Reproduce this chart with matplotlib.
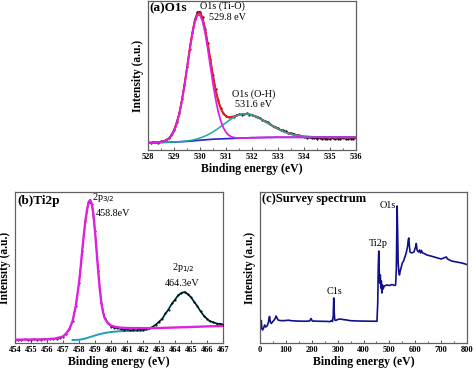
import numpy as np
import matplotlib
matplotlib.use("Agg")
import matplotlib.pyplot as plt
from matplotlib.ticker import MultipleLocator, NullLocator

plt.rcParams['font.family'] = ['Liberation Serif', 'DejaVu Serif']

# ---- (a) O1s : 0.1 eV steps from 528 to 536 ----
o1s_energy = np.linspace(528.0, 536.0, 81)
o1s_bg = [7.3, 7.3, 7.4, 7.4, 7.5, 7.5, 7.6, 7.7, 7.8, 7.9,
          8.0, 8.1, 8.2, 8.3, 8.5, 8.6, 8.8, 9.0, 9.3, 9.5,
          9.8, 10.0, 10.2, 10.4, 10.6, 10.8, 10.9, 11.0, 11.1, 11.2,
          11.3, 11.4, 11.5, 11.6, 11.7, 11.8, 11.9, 12.0, 12.1, 12.2,
          12.3, 12.3, 12.4, 12.4, 12.5, 12.5, 12.6, 12.6, 12.6, 12.7] + [12.7] * 31
o1s_tio = [0, 0, 0.03, 0.08, 0.19, 0.43, 0.91, 1.8, 3.5, 6.4,
           11.0, 17.9, 27.5, 40.2, 55.6, 72.9, 90.5, 106.4, 118.6, 125.1,
           125.1, 118.6, 106.4, 90.5, 72.9, 55.6, 40.2, 27.5, 17.9, 11.0,
           6.4, 3.5, 1.8, 0.9, 0.4, 0.2, 0.1, 0, 0, 0] + [0] * 41
o1s_oh = [0] * 10 + [
          0, 0.09, 0.14, 0.21, 0.31, 0.45, 0.64, 0.90, 1.24, 1.68,
          2.23, 2.93, 3.77, 4.80, 5.98, 7.34, 8.88, 10.56, 12.34, 14.18,
          16.06, 17.86, 19.54, 21.05, 22.30, 23.23, 23.81, 24.0, 23.85, 23.42,
          22.70, 21.74, 20.57, 19.22, 17.74, 16.17, 14.56, 12.95, 11.37, 9.87,
          8.45, 7.15, 5.98, 4.94, 4.03, 3.25, 2.58, 2.03, 1.58, 1.21,
          0.92, 0.69, 0.51, 0.37, 0.27, 0.19, 0.13, 0.09, 0, 0] + [0] * 11
o1s_resid = [0.4, -0.3, 0.6, 0.2, -0.4, 0.8, 0.3, 1.0, 0.5, 1.2,
             1.5, 2.0, 1.2, 1.8, 1.0, 0.6, 0.8, 1.0, 1.4, 1.6,
             1.2, 1.0, 0.6, 0.9, 1.3, 1.5, 1.2, 0.8, 0.4, 0.6,
             0.3, -0.2, 0.4, -0.3, 0.2, 0.5, -0.4, 0.3, 0.6, -0.2,
             0.4, -0.5, 0.3, 0.8, -0.3, 0.5, 0.9, 0.2, -0.4, 0.6,
             0.8, 0.3, 1.0, 1.2, 0.5, 0.9, 1.1, 0.4, 0.6, -0.2,
             -0.5, -1.2, -0.6, -1.5, -0.8, -1.6, -1.0, -1.9, -1.2, -1.5,
             -1.8, -1.1, -2.0, -1.3, -1.7, -0.9, -1.6, -2.1, -1.2, -1.5, -1.0]

# ---- (b) Ti2p : 0.2 eV steps from 454 to 467 ----
ti_energy = np.linspace(454.0, 467.0, 66)
ti_counts = [2.8, 3.4, 2.9, 3.6, 3.1, 3.3, 3.8, 3.2, 3.5, 4.0,
             3.6, 3.9, 4.3, 4.4, 5.2, 6.5, 9.5, 14, 22, 37,
             60, 92, 122, 141, 139, 112, 72, 40, 25, 20,
             16.5, 15.3, 14.6, 13.8, 13.2, 13.6, 12.8, 13.4, 12.9, 13.5,
             13.2, 14.2, 14.6, 16.4, 18.3, 21.5, 24.0, 29.6, 33.5, 39.6,
             43.0, 48.1, 49.8, 51.2, 48.6, 45.8, 41.0, 36.9, 31.6, 27.2,
             24.4, 21.6, 20.9, 19.2, 19.4, 18.5]
ti32_energy = [454.0, 454.5, 455.0, 455.5, 456.0, 456.5, 457.0, 457.2, 457.4, 457.6,
               457.8, 458.0, 458.1, 458.2, 458.3, 458.4, 458.5, 458.6, 458.7, 458.8,
               458.9, 459.0, 459.1, 459.2, 459.3, 459.4, 459.5, 459.6, 459.8, 460.0,
               460.3, 460.6, 461.0, 462.0, 463.0, 464.0, 465.0, 466.0, 467.0]
ti32_fit = [3.3, 3.4, 3.5, 3.6, 3.8, 4.4, 6.5, 9.5, 14, 22,
            37, 60, 75, 92, 108, 122, 133, 141, 143, 139,
            129, 112, 92, 72, 54, 40, 31, 25, 20, 17.5,
            16, 15.3, 15, 14.8, 15, 15.5, 16, 16.6, 17]
ti12_energy = [457.6, 458.0, 458.4, 458.8, 459.2, 459.6, 460.0, 460.5, 461.0, 461.5,
               462.0, 462.4, 462.7, 463.0, 463.2, 463.4, 463.6, 463.8, 464.0, 464.2,
               464.4, 464.55, 464.7, 464.9, 465.1, 465.3, 465.5, 465.7, 465.9, 466.1,
               466.4, 466.7, 467.0]
ti12_fit = [3.0, 3.2, 4.5, 6.5, 8.5, 10.0, 11.0, 11.7, 12.0, 12.2,
            12.5, 14.0, 17.0, 21.0, 24.5, 29.0, 34.0, 39.0, 43.5, 47.5,
            50.2, 50.7, 50.0, 47.5, 43.5, 39.0, 34.0, 29.5, 25.5, 22.5,
            20.5, 19.3, 18.7]

# ---- (c) survey ----
survey_energy = [0, 3, 5, 7, 10, 14, 18, 22, 27, 32, 35, 37, 40, 44, 48, 53, 58, 62, 66, 70,
                 76, 85, 100, 110, 120, 140, 160, 180, 192, 197, 202, 220, 240, 260, 270, 276,
                 280, 283, 285, 287, 289, 293, 300, 310, 320, 335, 350, 380, 400, 420, 440, 452,
                 455, 457, 459, 461, 463, 465, 467, 469, 471, 473, 476, 480, 490, 500, 510, 520,
                 524, 527, 529, 530, 532, 534, 537, 539, 542, 546, 550, 555, 560, 565, 570, 573,
                 575, 577, 580, 585, 590, 595, 600, 604, 607, 612, 617, 620, 624, 628, 635, 645,
                 660, 680, 700, 715, 720, 725, 740, 760, 780, 800]
survey_counts = [12, 16, 22.5, 15, 13, 15, 18, 16, 17, 20, 25, 26.5, 21, 19.5, 21, 22.5, 24, 27, 25, 23,
                 22.5, 22.3, 22.5, 22.8, 22.3, 22, 21.8, 21.8, 22, 24.5, 22, 21.8, 21.7, 21.6, 21.3, 22.5,
                 21.5, 27, 45, 30, 23, 22.5, 23.5, 24, 23.5, 23, 22.3, 22, 21.9, 21.8, 21.8, 21.7,
                 40, 75, 92, 70, 60, 68, 55, 62, 50, 58, 54, 57, 58, 57.5, 58.5, 57.5,
                 58, 75, 120, 137, 110, 80, 70, 68, 72, 76, 80, 82, 86, 90, 96, 103,
                 105, 98, 91, 90, 90.5, 91, 95, 99.5, 93, 91, 93, 90, 92.5, 90, 89.5, 88,
                 87, 85.5, 84, 85.5, 86, 84, 82, 81, 80, 78.5]

W, H = 474, 370
fig = plt.figure(figsize=(W / 100, H / 100), dpi=100)


def make_axes(l, t, r, b):
    # pixel box -> figure fraction
    return fig.add_axes([l / W, 1 - b / H, (r - l) / W, (b - t) / H])


def style(ax, xlim, ytop, major, minor):
    ax.set_xlim(*xlim)
    ax.set_ylim(0, ytop)
    ax.xaxis.set_major_locator(MultipleLocator(major))
    if minor:
        ax.xaxis.set_minor_locator(MultipleLocator(minor))
    else:
        ax.xaxis.set_minor_locator(NullLocator())
    ax.yaxis.set_major_locator(NullLocator())
    ax.tick_params(axis='x', which='major', direction='in', length=2.5, width=0.7,
                   labelsize=6, pad=2, colors='#555555', labelcolor='black')
    ax.tick_params(axis='x', which='minor', direction='in', length=1.5, width=0.6,
                   colors='#555555')
    for lab in ax.get_xticklabels():
        lab.set_fontweight('bold')
    for sp in ax.spines.values():
        sp.set_color('#606060')
        sp.set_linewidth(0.9)
    ax.set_xlabel('Binding energy (eV)', fontsize=8.5, fontweight='bold', labelpad=1.5)
    ax.set_ylabel('Intensity (a.u.)', fontsize=8.3, fontweight='bold', labelpad=3)


# (a)
ax1 = make_axes(148, 1, 356, 150)
bg = np.array(o1s_bg)
tio = bg + np.array(o1s_tio)
oh = bg + np.array(o1s_oh)
env = bg + np.array(o1s_tio) + np.array(o1s_oh)
meas = env + np.array(o1s_resid)
ax1.plot(o1s_energy, meas, color='black', lw=0.8, marker='.', ms=1.2, zorder=2)
ax1.plot(o1s_energy, env, color='#e8201c', lw=1.5, zorder=3)
ax1.plot(o1s_energy, bg, color='#2424c8', lw=1.2, zorder=4)
ax1.plot(o1s_energy, oh, color='#22a6a6', lw=1.1, zorder=5)
ax1.plot(o1s_energy, tio, color='#e020e0', lw=1.3, zorder=6)
style(ax1, (528, 536), 149, 1, 0.5)
ax1.text(0.005, 0.95, '(a)O1s', transform=ax1.transAxes, fontsize=9.5,
         fontweight='bold', ha='left', va='center')
ax1.text(530.88, 144, 'O1s (Ti-O)', fontsize=7.3, ha='center', va='center')
ax1.text(531.06, 132.5, '529.8 eV', fontsize=7.3, ha='center', va='center')
ax1.text(532.06, 56, 'O1s (O-H)', fontsize=7.3, ha='center', va='center')
ax1.text(532.06, 46, '531.6 eV', fontsize=7.3, ha='center', va='center')

# (b)
ax2 = make_axes(15, 192, 223, 343)
ax2.plot(ti12_energy, ti12_fit, color='#1f9fb4', lw=1.4, zorder=2)
ax2.plot(ti_energy, ti_counts, color='black', lw=0.8, marker='.', ms=1.0, zorder=3)
ax2.plot(ti32_energy, ti32_fit, color='#e020e0', lw=1.7, zorder=4)
style(ax2, (454, 467), 151, 1, None)
ax2.text(0.01, 0.94, '(b)Ti2p', transform=ax2.transAxes, fontsize=9.5,
         fontweight='bold', ha='left', va='center')
ax2.text(459.54, 144, r'2p$_{3/2}$', fontsize=7.3, ha='center', va='center')
ax2.text(460.1, 129, '458.8eV', fontsize=7.3, ha='center', va='center')
ax2.text(464.51, 74, r'2p$_{1/2}$', fontsize=7.3, ha='center', va='center')
ax2.text(464.42, 59, '464.3eV', fontsize=7.3, ha='center', va='center')

# (c)
ax3 = make_axes(260, 192, 467, 343)
ax3.plot(survey_energy, survey_counts, color='#10108a', lw=1.2)
style(ax3, (0, 800), 151, 100, 50)
ax3.text(0.01, 0.954, '(c)Survey spectrum', transform=ax3.transAxes, fontsize=9,
         fontweight='bold', ha='left', va='center')
ax3.text(492, 137, 'O1s', fontsize=7.3, ha='center', va='center')
ax3.text(455.6, 99, 'Ti2p', fontsize=7.3, ha='center', va='center')
ax3.text(287.6, 52, 'C1s', fontsize=7.3, ha='center', va='center')

fig.savefig('out.png', dpi=100)
